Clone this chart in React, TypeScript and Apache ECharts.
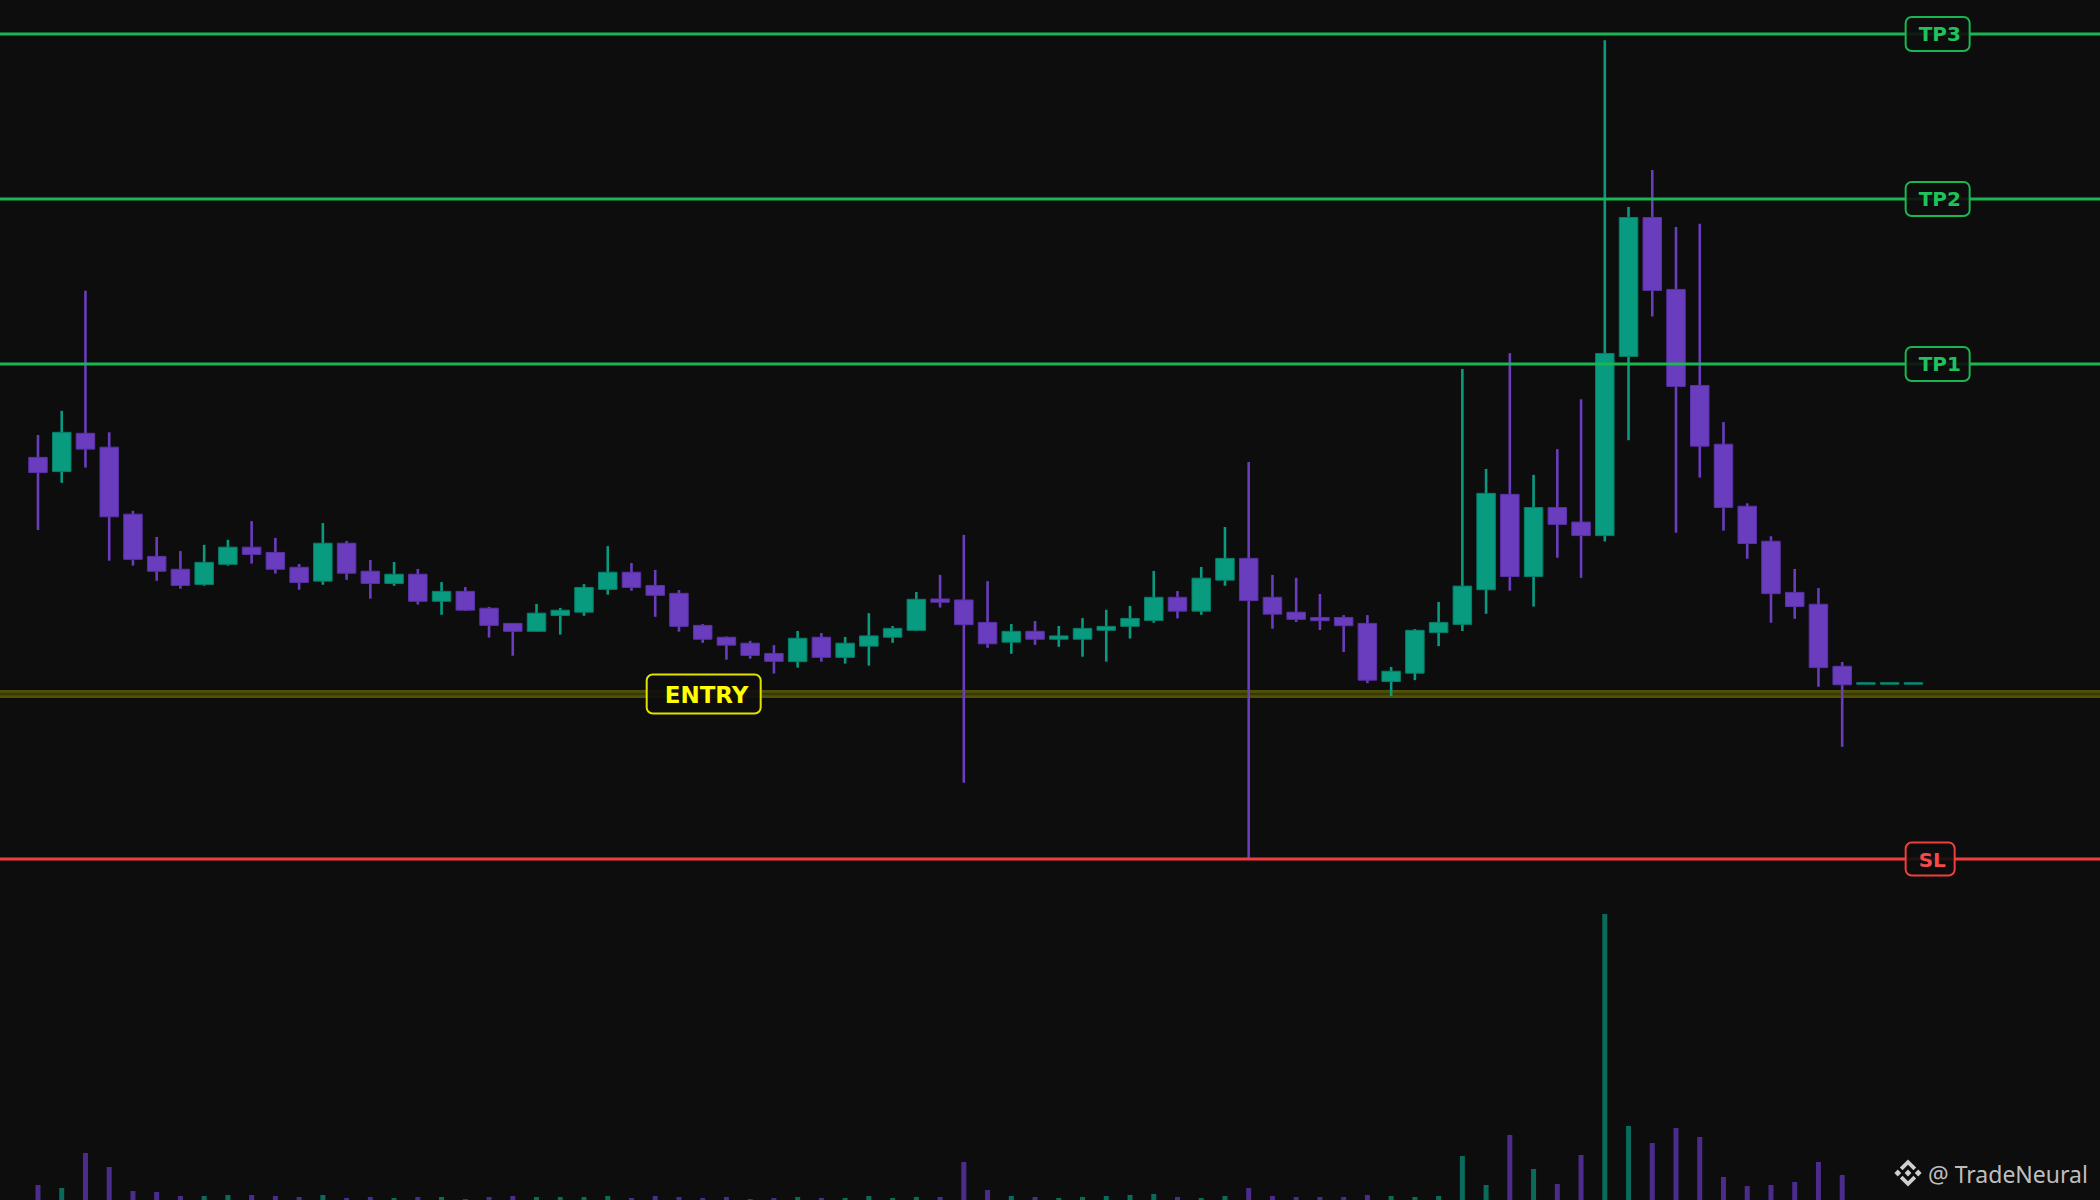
import React, { useEffect, useRef } from "react";
import * as echarts from "echarts";

// ---- data ----
const opens = [
  107.17, 106.74, 107.9, 107.48, 105.45, 104.17, 103.78, 103.32, 103.93, 104.45,
  104.29, 103.84, 103.42, 104.57, 103.72, 103.35, 103.63, 102.81, 103.11, 102.6,
  102.14, 101.9, 102.38, 102.48, 103.17, 103.69, 103.29, 103.05, 102.08, 101.72,
  101.54, 101.23, 100.98, 101.72, 101.11, 101.45, 101.72, 101.93, 102.88, 102.85,
  102.17, 101.57, 101.9, 101.66, 101.66, 101.93, 102.05, 102.23, 102.93, 102.51,
  103.45, 104.11, 102.93, 102.48, 102.32, 102.32, 102.14, 100.38, 100.63, 101.86,
  102.11, 103.16, 106.05, 103.56, 105.65, 105.21, 104.8, 110.23, 114.44, 112.26,
  109.35, 107.57, 105.69, 104.63, 103.08, 102.72, 100.84, 100.32, 100.32, 100.32,
];
const closes = [
  106.71, 107.93, 107.42, 105.37, 104.08, 103.72, 103.29, 103.99, 104.45, 104.23,
  103.78, 103.38, 104.57, 103.66, 103.35, 103.63, 102.81, 103.11, 102.54, 102.08,
  101.9, 102.45, 102.54, 103.23, 103.69, 103.23, 102.99, 102.05, 101.66, 101.48,
  101.17, 100.99, 101.69, 101.11, 101.54, 101.76, 101.99, 102.87, 102.78, 102.1,
  101.52, 101.9, 101.66, 101.76, 101.99, 102.05, 102.29, 102.93, 102.51, 103.51,
  104.11, 102.83, 102.42, 102.26, 102.22, 102.07, 100.42, 100.69, 101.93, 102.17,
  103.27, 106.08, 103.56, 105.65, 105.14, 104.8, 110.32, 114.44, 112.23, 109.32,
  107.51, 105.65, 104.56, 103.04, 102.65, 100.8, 100.28, 100.32, 100.32, 100.32,
];
const lows = [
  104.97, 106.4, 106.86, 104.04, 103.89, 103.43, 103.19, 103.28, 103.89, 103.95,
  103.65, 103.16, 103.31, 103.46, 102.89, 103.28, 102.71, 102.4, 102.52, 101.71,
  101.16, 101.89, 101.8, 102.37, 103.01, 103.13, 102.34, 101.89, 101.55, 101.04,
  101.07, 100.62, 100.8, 100.98, 100.92, 100.86, 101.55, 101.92, 102.62, 97.31,
  101.4, 101.22, 101.49, 101.43, 101.13, 100.98, 101.68, 102.16, 102.29, 102.4,
  103.28, 95.0, 101.98, 102.18, 101.94, 101.27, 100.33, 99.94, 100.42, 101.45,
  101.91, 102.43, 103.13, 102.65, 104.13, 103.52, 104.62, 107.69, 111.44, 104.89,
  106.56, 104.95, 104.1, 102.16, 102.28, 100.22, 98.4, 100.32, 100.32, 100.32,
];
const highs = [
  107.85, 108.58, 112.22, 107.93, 105.55, 104.76, 104.33, 104.52, 104.67, 105.24,
  104.73, 103.94, 105.18, 104.64, 104.06, 104.0, 103.79, 103.39, 103.24, 102.64,
  102.15, 102.73, 102.61, 103.33, 104.48, 103.97, 103.76, 103.15, 102.12, 101.74,
  101.61, 101.48, 101.91, 101.85, 101.73, 102.45, 102.06, 103.09, 103.61, 104.82,
  103.42, 102.12, 102.21, 102.06, 102.3, 102.55, 102.67, 103.73, 103.12, 103.85,
  105.06, 107.03, 103.61, 103.52, 103.03, 102.39, 102.39, 100.82, 101.97, 102.79,
  109.85, 106.82, 110.33, 106.64, 107.42, 108.93, 119.81, 114.76, 115.88, 114.15,
  114.25, 108.24, 105.78, 104.78, 103.79, 103.21, 100.97, 100.32, 100.32, 100.32,
];
const volumes = [
  15, 12, 47, 33, 9, 8, 4, 4, 5, 5,
  4, 3, 5, 2, 3, 2, 3, 3, 1, 3,
  4, 3, 3, 3, 4, 2, 4, 3, 2, 3,
  1, 2, 3, 2, 2, 4, 2, 3, 3, 38,
  10, 4, 3, 2, 3, 4, 5, 6, 3, 2,
  4, 12, 4, 3, 3, 3, 5, 4, 3, 4,
  44, 15, 65, 31, 16, 45, 286, 74, 57, 72,
  63, 23, 14, 15, 18, 38, 25, 0, 0, 0,
];
const levelNames = ["TP3", "TP2", "TP1", "ENTRY", "SL"];
const levelPrices = [120, 115, 110, 100, 95];
const levelLabelX = [80, 80, 80, 28, 80];

// ---- axis ranges ----
const X_MIN = -1.6;
const X_MAX = 86.86;
const PRICE_MIN = 84.667;
const PRICE_MAX = 121.03;
const VOL_MAX = 300;

// ---- styles ----
const BG = "#0d0d0d";
const UP = "#089b80";
const UP_BORDER = "#067f69";
const DOWN = "#6a3dbf";
const DOWN_BORDER = "#5a31a8";
const VOL_UP = "#0a6b5a";
const VOL_DOWN = "#4b2c8c";
const GREEN = "#19b651";
const GREEN_TEXT = "#1fc25b";
const RED = "#f03e3e";
const YELLOW = "#ffff00";

const isUp = opens.map((o, i) => {
  const c = closes[i];
  if (c > o) return true;
  if (c < o) return false;
  return i === 0 ? true : closes[i - 1] <= c;
});

// box: offset of left edge from anchor, width, height; text: left padding inside box
const levelStyle: Record<string, any> = {
  TP3: { left: -31.5, w: 64, h: 34, color: GREEN, text: GREEN_TEXT, size: 20, pad: 13 },
  TP2: { left: -31.5, w: 64, h: 34, color: GREEN, text: GREEN_TEXT, size: 20, pad: 13 },
  TP1: { left: -31.5, w: 64, h: 34, color: GREEN, text: GREEN_TEXT, size: 20, pad: 13 },
  ENTRY: { left: -56, w: 114, h: 39, color: "#e2e200", text: YELLOW, size: 23, pad: 18 },
  SL: { left: -31.5, w: 49, h: 33, color: RED, text: "#f44a4a", size: 20, pad: 13 },
};

function logoChildren(cx: number, cy: number, s: number) {
  const shapes: number[][][] = [
    [[0, -1], [1, 0], [0, 1], [-1, 0]],
    [[-3, -1], [-2, 0], [-3, 1], [-4, 0]],
    [[3, -1], [4, 0], [3, 1], [2, 0]],
    [[0, -4], [2.4, -1.6], [1.6, -0.8], [0, -2.4], [-1.6, -0.8], [-2.4, -1.6]],
    [[0, 4], [2.4, 1.6], [1.6, 0.8], [0, 2.4], [-1.6, 0.8], [-2.4, 1.6]],
  ];
  return shapes.map((pts) => ({
    type: "polygon",
    shape: { points: pts.map(([x, y]) => [cx + x * s, cy + y * s]) },
    style: { fill: "#cfcfcf" },
  }));
}

export default function App() {
  const ref = useRef<HTMLDivElement>(null);

  useEffect(() => {
    document.body.style.margin = "0";
    document.body.style.background = BG;
    if (!ref.current) return;
    const chart = echarts.init(ref.current, undefined, { renderer: "svg" });

    const candleData = opens.map((o, i) => [i, o, closes[i], lows[i], highs[i]]);
    const volData = volumes.map((v, i) => ({
      value: [i, v],
      itemStyle: { color: isUp[i] ? VOL_UP : VOL_DOWN },
    }));

    const levelLineSeries = levelNames.map((name, k) => {
      const p = levelPrices[k];
      const isEntry = name === "ENTRY";
      const color = name === "SL" ? RED : isEntry ? "#505008" : GREEN;
      return {
        type: "line",
        name,
        xAxisIndex: 0,
        yAxisIndex: 0,
        data: [
          [X_MIN, p],
          [X_MAX, p],
        ],
        symbol: "none",
        silent: true,
        z: isEntry ? 1 : 4,
        lineStyle: { color, width: isEntry ? 8 : 3 },
      };
    });

    const entryInner = {
      type: "line",
      xAxisIndex: 0,
      yAxisIndex: 0,
      data: [
        [X_MIN, levelPrices[3]],
        [X_MAX, levelPrices[3]],
      ],
      symbol: "none",
      silent: true,
      z: 1,
      lineStyle: { color: "#393906", width: 2.5 },
    };

    const option: any = {
      animation: false,
      backgroundColor: BG,
      grid: [
        { left: 0, right: 0, top: 0, bottom: 0 },
        { left: 0, right: 0, top: 900, bottom: 0 },
      ],
      xAxis: [
        { type: "value", gridIndex: 0, min: X_MIN, max: X_MAX, show: false, splitLine: { show: false } },
        { type: "value", gridIndex: 1, min: X_MIN, max: X_MAX, show: false, splitLine: { show: false } },
      ],
      yAxis: [
        { type: "value", gridIndex: 0, min: PRICE_MIN, max: PRICE_MAX, show: false, splitLine: { show: false } },
        { type: "value", gridIndex: 1, min: 0, max: VOL_MAX, show: false, splitLine: { show: false } },
      ],
      series: [
        {
          type: "bar",
          name: "volume",
          xAxisIndex: 1,
          yAxisIndex: 1,
          barWidth: 5,
          data: volData,
          z: 1,
        },
        ...levelLineSeries,
        entryInner,
        {
          type: "custom",
          name: "candles",
          xAxisIndex: 0,
          yAxisIndex: 0,
          z: 2,
          encode: { x: 0, y: [1, 2, 3, 4] },
          data: candleData,
          renderItem: (params: any, api: any) => {
            const i = params.dataIndex;
            const x = api.value(0);
            const o = api.value(1);
            const c = api.value(2);
            const l = api.value(3);
            const h = api.value(4);
            const pO = api.coord([x, o]);
            const pC = api.coord([x, c]);
            const pL = api.coord([x, l]);
            const pH = api.coord([x, h]);
            const up = isUp[i];
            const fill = up ? UP : DOWN;
            const stroke = up ? UP_BORDER : DOWN_BORDER;
            const w = 18.5;
            let top = Math.min(pO[1], pC[1]);
            let hgt = Math.abs(pO[1] - pC[1]);
            if (hgt < 1.5) {
              top -= (1.5 - hgt) / 2;
              hgt = 1.5;
            }
            const children: any[] = [];
            if (Math.abs(pH[1] - pL[1]) > 0.5) {
              children.push({
                type: "line",
                shape: { x1: pH[0], y1: pH[1], x2: pL[0], y2: pL[1] },
                style: { stroke: fill, lineWidth: 2.6 },
              });
            }
            children.push({
              type: "rect",
              shape: { x: pO[0] - w / 2, y: top, width: w, height: hgt },
              style: { fill, stroke, lineWidth: 1 },
            });
            return { type: "group", children };
          },
        },
        {
          type: "custom",
          name: "levelLabels",
          xAxisIndex: 0,
          yAxisIndex: 0,
          z: 6,
          encode: { x: 0, y: 1 },
          data: levelNames.map((n, k) => [levelLabelX[k], levelPrices[k]]),
          renderItem: (params: any, api: any) => {
            const name = levelNames[params.dataIndex];
            const st = levelStyle[name];
            const p = api.coord([api.value(0), api.value(1)]);
            const bx = p[0] + st.left;
            return {
              type: "group",
              children: [
                {
                  type: "rect",
                  shape: { x: bx, y: p[1] - st.h / 2, width: st.w, height: st.h, r: 6 },
                  style: { fill: "rgba(13,13,13,0.9)", stroke: st.color, lineWidth: 2 },
                },
                {
                  type: "text",
                  style: {
                    text: name,
                    x: bx + st.pad,
                    y: p[1] + 0.5,
                    align: "left",
                    verticalAlign: "middle",
                    fill: st.text,
                    fontFamily: "DejaVu Sans",
                    fontWeight: "bold",
                    fontSize: st.size,
                  },
                },
              ],
            };
          },
        },
      ],
      graphic: [
        {
          type: "group",
          z: 10,
          children: [
            ...logoChildren(1908, 1173, 3.4),
            {
              type: "text",
              style: {
                text: "@ TradeNeural",
                x: 1928,
                y: 1174,
                align: "left",
                verticalAlign: "middle",
                fill: "rgba(215,215,215,0.9)",
                fontFamily: "Noto Sans",
                fontSize: 23,
              },
            },
          ],
        },
      ],
    };

    chart.setOption(option);
    return () => chart.dispose();
  }, []);

  return <div ref={ref} style={{ width: 2100, height: 1200, background: BG }} />;
}
